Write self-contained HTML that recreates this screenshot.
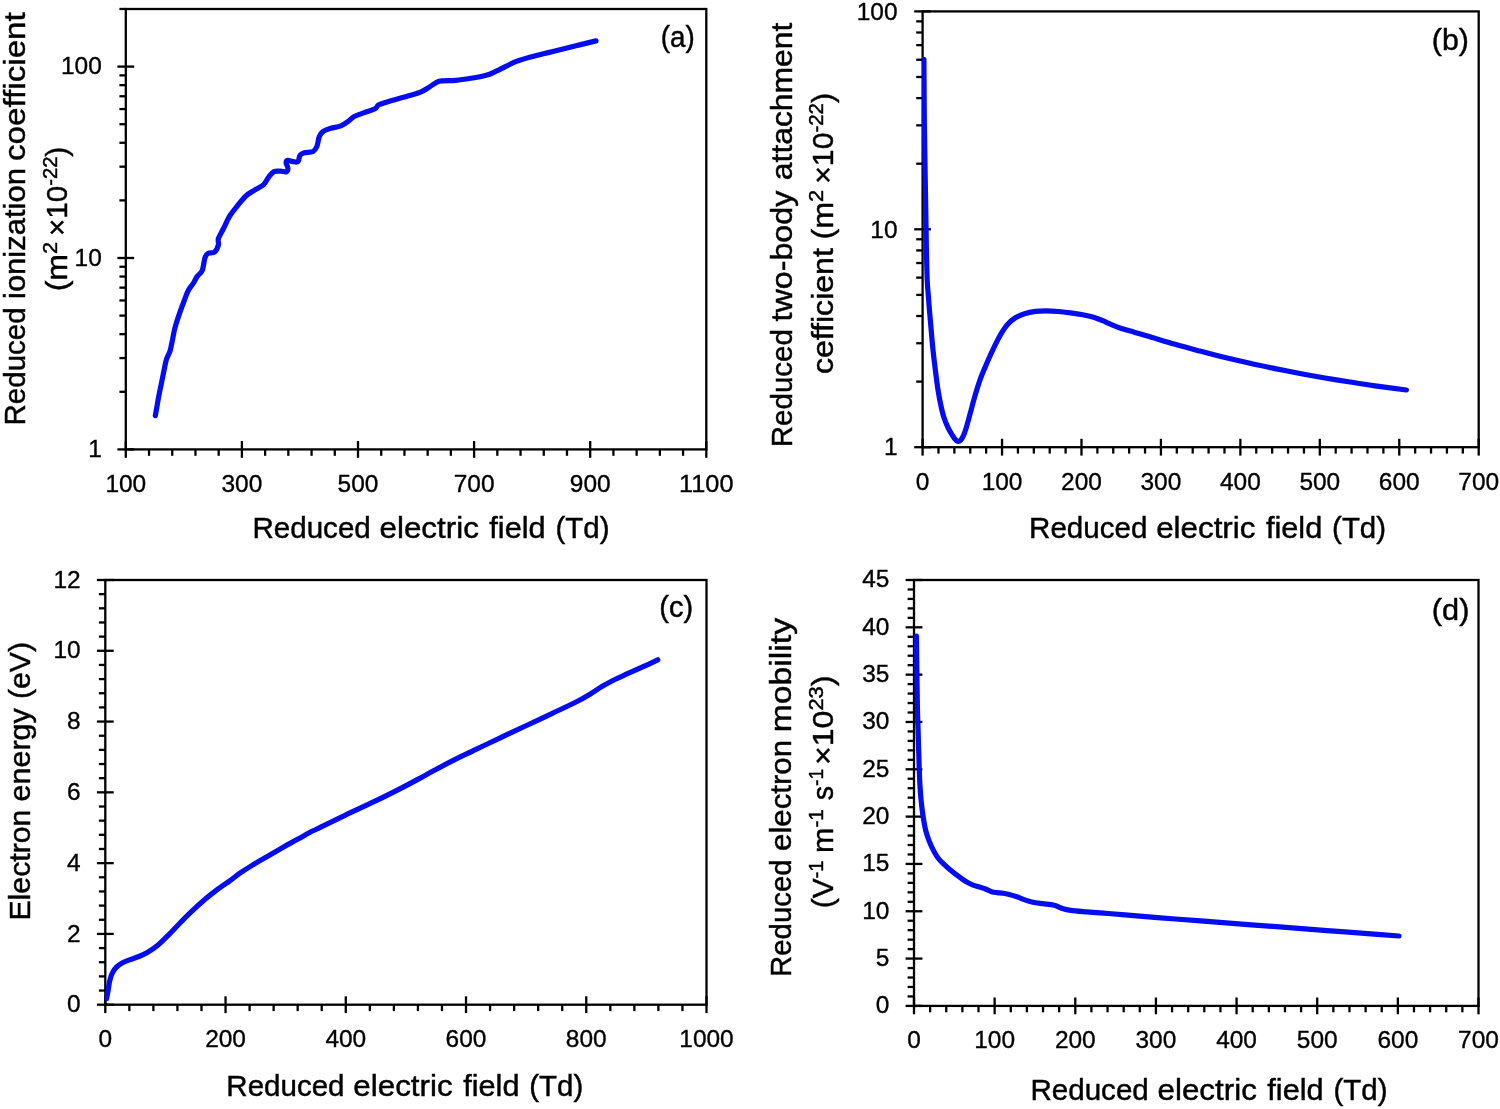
<!DOCTYPE html>
<html lang="en"><head><meta charset="utf-8"><title>Figure</title>
<style>
html,body{margin:0;padding:0;background:#fff;overflow:hidden;}
svg{display:block;}
text{font-family:"Liberation Sans", "DejaVu Sans", sans-serif;fill:#000;}
text.t{stroke:#000;stroke-width:0.45px;}
text.k{stroke:#000;stroke-width:0.35px;}
path.c{fill:none;stroke:#040cf2;stroke-width:5.2px;stroke-linecap:round;stroke-linejoin:round;}
</style></head><body>
<svg width="1500" height="1109" viewBox="0 0 1500 1109">
<rect width="1500" height="1109" fill="#fff"/>
<defs><clipPath id="ka"><rect x="125.20" y="9.00" width="581.10" height="440.40"/></clipPath><clipPath id="kb"><rect x="922.00" y="11.40" width="556.70" height="435.80"/></clipPath><clipPath id="kc"><rect x="104.70" y="580.00" width="601.80" height="424.70"/></clipPath><clipPath id="kd"><rect x="913.40" y="580.00" width="565.10" height="425.90"/></clipPath></defs>
<g stroke="#000" stroke-width="2.3" stroke-linecap="butt">
<rect x="125.80" y="9.00" width="580.50" height="440.40" fill="none"/>
<line x1="125.80" y1="441.00" x2="125.80" y2="457.80"/>
<line x1="241.90" y1="441.00" x2="241.90" y2="457.80"/>
<line x1="358.00" y1="441.00" x2="358.00" y2="457.80"/>
<line x1="474.10" y1="441.00" x2="474.10" y2="457.80"/>
<line x1="590.20" y1="441.00" x2="590.20" y2="457.80"/>
<line x1="706.30" y1="441.00" x2="706.30" y2="457.80"/>
<line x1="149.02" y1="449.40" x2="149.02" y2="455.80"/>
<line x1="172.24" y1="449.40" x2="172.24" y2="455.80"/>
<line x1="195.46" y1="449.40" x2="195.46" y2="455.80"/>
<line x1="218.68" y1="449.40" x2="218.68" y2="455.80"/>
<line x1="265.12" y1="449.40" x2="265.12" y2="455.80"/>
<line x1="288.34" y1="449.40" x2="288.34" y2="455.80"/>
<line x1="311.56" y1="449.40" x2="311.56" y2="455.80"/>
<line x1="334.78" y1="449.40" x2="334.78" y2="455.80"/>
<line x1="381.22" y1="449.40" x2="381.22" y2="455.80"/>
<line x1="404.44" y1="449.40" x2="404.44" y2="455.80"/>
<line x1="427.66" y1="449.40" x2="427.66" y2="455.80"/>
<line x1="450.88" y1="449.40" x2="450.88" y2="455.80"/>
<line x1="497.32" y1="449.40" x2="497.32" y2="455.80"/>
<line x1="520.54" y1="449.40" x2="520.54" y2="455.80"/>
<line x1="543.76" y1="449.40" x2="543.76" y2="455.80"/>
<line x1="566.98" y1="449.40" x2="566.98" y2="455.80"/>
<line x1="613.42" y1="449.40" x2="613.42" y2="455.80"/>
<line x1="636.64" y1="449.40" x2="636.64" y2="455.80"/>
<line x1="659.86" y1="449.40" x2="659.86" y2="455.80"/>
<line x1="683.08" y1="449.40" x2="683.08" y2="455.80"/>
<line x1="117.40" y1="449.40" x2="134.20" y2="449.40"/>
<line x1="117.40" y1="258.00" x2="134.20" y2="258.00"/>
<line x1="117.40" y1="66.60" x2="134.20" y2="66.60"/>
<line x1="119.40" y1="391.78" x2="125.80" y2="391.78"/>
<line x1="119.40" y1="358.08" x2="125.80" y2="358.08"/>
<line x1="119.40" y1="334.17" x2="125.80" y2="334.17"/>
<line x1="119.40" y1="315.62" x2="125.80" y2="315.62"/>
<line x1="119.40" y1="300.46" x2="125.80" y2="300.46"/>
<line x1="119.40" y1="287.65" x2="125.80" y2="287.65"/>
<line x1="119.40" y1="276.55" x2="125.80" y2="276.55"/>
<line x1="119.40" y1="266.76" x2="125.80" y2="266.76"/>
<line x1="119.40" y1="200.38" x2="125.80" y2="200.38"/>
<line x1="119.40" y1="166.68" x2="125.80" y2="166.68"/>
<line x1="119.40" y1="142.77" x2="125.80" y2="142.77"/>
<line x1="119.40" y1="124.22" x2="125.80" y2="124.22"/>
<line x1="119.40" y1="109.06" x2="125.80" y2="109.06"/>
<line x1="119.40" y1="96.25" x2="125.80" y2="96.25"/>
<line x1="119.40" y1="85.15" x2="125.80" y2="85.15"/>
<line x1="119.40" y1="75.36" x2="125.80" y2="75.36"/>
<line x1="119.40" y1="8.98" x2="125.80" y2="8.98"/>
<rect x="922.60" y="11.40" width="556.10" height="435.80" fill="none"/>
<line x1="922.60" y1="438.80" x2="922.60" y2="455.60"/>
<line x1="1002.04" y1="438.80" x2="1002.04" y2="455.60"/>
<line x1="1081.49" y1="438.80" x2="1081.49" y2="455.60"/>
<line x1="1160.93" y1="438.80" x2="1160.93" y2="455.60"/>
<line x1="1240.37" y1="438.80" x2="1240.37" y2="455.60"/>
<line x1="1319.81" y1="438.80" x2="1319.81" y2="455.60"/>
<line x1="1399.26" y1="438.80" x2="1399.26" y2="455.60"/>
<line x1="1478.70" y1="438.80" x2="1478.70" y2="455.60"/>
<line x1="938.49" y1="447.20" x2="938.49" y2="453.60"/>
<line x1="954.38" y1="447.20" x2="954.38" y2="453.60"/>
<line x1="970.27" y1="447.20" x2="970.27" y2="453.60"/>
<line x1="986.15" y1="447.20" x2="986.15" y2="453.60"/>
<line x1="1017.93" y1="447.20" x2="1017.93" y2="453.60"/>
<line x1="1033.82" y1="447.20" x2="1033.82" y2="453.60"/>
<line x1="1049.71" y1="447.20" x2="1049.71" y2="453.60"/>
<line x1="1065.60" y1="447.20" x2="1065.60" y2="453.60"/>
<line x1="1097.37" y1="447.20" x2="1097.37" y2="453.60"/>
<line x1="1113.26" y1="447.20" x2="1113.26" y2="453.60"/>
<line x1="1129.15" y1="447.20" x2="1129.15" y2="453.60"/>
<line x1="1145.04" y1="447.20" x2="1145.04" y2="453.60"/>
<line x1="1176.82" y1="447.20" x2="1176.82" y2="453.60"/>
<line x1="1192.71" y1="447.20" x2="1192.71" y2="453.60"/>
<line x1="1208.59" y1="447.20" x2="1208.59" y2="453.60"/>
<line x1="1224.48" y1="447.20" x2="1224.48" y2="453.60"/>
<line x1="1256.26" y1="447.20" x2="1256.26" y2="453.60"/>
<line x1="1272.15" y1="447.20" x2="1272.15" y2="453.60"/>
<line x1="1288.04" y1="447.20" x2="1288.04" y2="453.60"/>
<line x1="1303.93" y1="447.20" x2="1303.93" y2="453.60"/>
<line x1="1335.70" y1="447.20" x2="1335.70" y2="453.60"/>
<line x1="1351.59" y1="447.20" x2="1351.59" y2="453.60"/>
<line x1="1367.48" y1="447.20" x2="1367.48" y2="453.60"/>
<line x1="1383.37" y1="447.20" x2="1383.37" y2="453.60"/>
<line x1="1415.15" y1="447.20" x2="1415.15" y2="453.60"/>
<line x1="1431.03" y1="447.20" x2="1431.03" y2="453.60"/>
<line x1="1446.92" y1="447.20" x2="1446.92" y2="453.60"/>
<line x1="1462.81" y1="447.20" x2="1462.81" y2="453.60"/>
<line x1="914.20" y1="447.20" x2="931.00" y2="447.20"/>
<line x1="914.20" y1="229.30" x2="931.00" y2="229.30"/>
<line x1="914.20" y1="11.40" x2="931.00" y2="11.40"/>
<line x1="916.20" y1="381.61" x2="922.60" y2="381.61"/>
<line x1="916.20" y1="343.24" x2="922.60" y2="343.24"/>
<line x1="916.20" y1="316.01" x2="922.60" y2="316.01"/>
<line x1="916.20" y1="294.89" x2="922.60" y2="294.89"/>
<line x1="916.20" y1="277.64" x2="922.60" y2="277.64"/>
<line x1="916.20" y1="263.05" x2="922.60" y2="263.05"/>
<line x1="916.20" y1="250.42" x2="922.60" y2="250.42"/>
<line x1="916.20" y1="239.27" x2="922.60" y2="239.27"/>
<line x1="916.20" y1="163.71" x2="922.60" y2="163.71"/>
<line x1="916.20" y1="125.34" x2="922.60" y2="125.34"/>
<line x1="916.20" y1="98.11" x2="922.60" y2="98.11"/>
<line x1="916.20" y1="76.99" x2="922.60" y2="76.99"/>
<line x1="916.20" y1="59.74" x2="922.60" y2="59.74"/>
<line x1="916.20" y1="45.15" x2="922.60" y2="45.15"/>
<line x1="916.20" y1="32.52" x2="922.60" y2="32.52"/>
<line x1="916.20" y1="21.37" x2="922.60" y2="21.37"/>
<rect x="105.30" y="580.00" width="601.20" height="424.70" fill="none"/>
<line x1="105.30" y1="996.30" x2="105.30" y2="1013.10"/>
<line x1="225.54" y1="996.30" x2="225.54" y2="1013.10"/>
<line x1="345.78" y1="996.30" x2="345.78" y2="1013.10"/>
<line x1="466.02" y1="996.30" x2="466.02" y2="1013.10"/>
<line x1="586.26" y1="996.30" x2="586.26" y2="1013.10"/>
<line x1="706.50" y1="996.30" x2="706.50" y2="1013.10"/>
<line x1="129.35" y1="1004.70" x2="129.35" y2="1011.10"/>
<line x1="153.40" y1="1004.70" x2="153.40" y2="1011.10"/>
<line x1="177.44" y1="1004.70" x2="177.44" y2="1011.10"/>
<line x1="201.49" y1="1004.70" x2="201.49" y2="1011.10"/>
<line x1="249.59" y1="1004.70" x2="249.59" y2="1011.10"/>
<line x1="273.64" y1="1004.70" x2="273.64" y2="1011.10"/>
<line x1="297.68" y1="1004.70" x2="297.68" y2="1011.10"/>
<line x1="321.73" y1="1004.70" x2="321.73" y2="1011.10"/>
<line x1="369.83" y1="1004.70" x2="369.83" y2="1011.10"/>
<line x1="393.88" y1="1004.70" x2="393.88" y2="1011.10"/>
<line x1="417.92" y1="1004.70" x2="417.92" y2="1011.10"/>
<line x1="441.97" y1="1004.70" x2="441.97" y2="1011.10"/>
<line x1="490.07" y1="1004.70" x2="490.07" y2="1011.10"/>
<line x1="514.12" y1="1004.70" x2="514.12" y2="1011.10"/>
<line x1="538.16" y1="1004.70" x2="538.16" y2="1011.10"/>
<line x1="562.21" y1="1004.70" x2="562.21" y2="1011.10"/>
<line x1="610.31" y1="1004.70" x2="610.31" y2="1011.10"/>
<line x1="634.36" y1="1004.70" x2="634.36" y2="1011.10"/>
<line x1="658.40" y1="1004.70" x2="658.40" y2="1011.10"/>
<line x1="682.45" y1="1004.70" x2="682.45" y2="1011.10"/>
<line x1="96.90" y1="1004.70" x2="113.70" y2="1004.70"/>
<line x1="96.90" y1="933.92" x2="113.70" y2="933.92"/>
<line x1="96.90" y1="863.13" x2="113.70" y2="863.13"/>
<line x1="96.90" y1="792.35" x2="113.70" y2="792.35"/>
<line x1="96.90" y1="721.57" x2="113.70" y2="721.57"/>
<line x1="96.90" y1="650.78" x2="113.70" y2="650.78"/>
<line x1="96.90" y1="580.00" x2="113.70" y2="580.00"/>
<line x1="98.90" y1="990.54" x2="105.30" y2="990.54"/>
<line x1="98.90" y1="976.39" x2="105.30" y2="976.39"/>
<line x1="98.90" y1="962.23" x2="105.30" y2="962.23"/>
<line x1="98.90" y1="948.07" x2="105.30" y2="948.07"/>
<line x1="98.90" y1="919.76" x2="105.30" y2="919.76"/>
<line x1="98.90" y1="905.60" x2="105.30" y2="905.60"/>
<line x1="98.90" y1="891.45" x2="105.30" y2="891.45"/>
<line x1="98.90" y1="877.29" x2="105.30" y2="877.29"/>
<line x1="98.90" y1="848.98" x2="105.30" y2="848.98"/>
<line x1="98.90" y1="834.82" x2="105.30" y2="834.82"/>
<line x1="98.90" y1="820.66" x2="105.30" y2="820.66"/>
<line x1="98.90" y1="806.51" x2="105.30" y2="806.51"/>
<line x1="98.90" y1="778.19" x2="105.30" y2="778.19"/>
<line x1="98.90" y1="764.04" x2="105.30" y2="764.04"/>
<line x1="98.90" y1="749.88" x2="105.30" y2="749.88"/>
<line x1="98.90" y1="735.72" x2="105.30" y2="735.72"/>
<line x1="98.90" y1="707.41" x2="105.30" y2="707.41"/>
<line x1="98.90" y1="693.25" x2="105.30" y2="693.25"/>
<line x1="98.90" y1="679.10" x2="105.30" y2="679.10"/>
<line x1="98.90" y1="664.94" x2="105.30" y2="664.94"/>
<line x1="98.90" y1="636.63" x2="105.30" y2="636.63"/>
<line x1="98.90" y1="622.47" x2="105.30" y2="622.47"/>
<line x1="98.90" y1="608.31" x2="105.30" y2="608.31"/>
<line x1="98.90" y1="594.16" x2="105.30" y2="594.16"/>
<rect x="914.00" y="580.00" width="564.50" height="425.90" fill="none"/>
<line x1="914.00" y1="997.50" x2="914.00" y2="1014.30"/>
<line x1="994.64" y1="997.50" x2="994.64" y2="1014.30"/>
<line x1="1075.29" y1="997.50" x2="1075.29" y2="1014.30"/>
<line x1="1155.93" y1="997.50" x2="1155.93" y2="1014.30"/>
<line x1="1236.57" y1="997.50" x2="1236.57" y2="1014.30"/>
<line x1="1317.21" y1="997.50" x2="1317.21" y2="1014.30"/>
<line x1="1397.86" y1="997.50" x2="1397.86" y2="1014.30"/>
<line x1="1478.50" y1="997.50" x2="1478.50" y2="1014.30"/>
<line x1="930.13" y1="1005.90" x2="930.13" y2="1012.30"/>
<line x1="946.26" y1="1005.90" x2="946.26" y2="1012.30"/>
<line x1="962.39" y1="1005.90" x2="962.39" y2="1012.30"/>
<line x1="978.51" y1="1005.90" x2="978.51" y2="1012.30"/>
<line x1="1010.77" y1="1005.90" x2="1010.77" y2="1012.30"/>
<line x1="1026.90" y1="1005.90" x2="1026.90" y2="1012.30"/>
<line x1="1043.03" y1="1005.90" x2="1043.03" y2="1012.30"/>
<line x1="1059.16" y1="1005.90" x2="1059.16" y2="1012.30"/>
<line x1="1091.41" y1="1005.90" x2="1091.41" y2="1012.30"/>
<line x1="1107.54" y1="1005.90" x2="1107.54" y2="1012.30"/>
<line x1="1123.67" y1="1005.90" x2="1123.67" y2="1012.30"/>
<line x1="1139.80" y1="1005.90" x2="1139.80" y2="1012.30"/>
<line x1="1172.06" y1="1005.90" x2="1172.06" y2="1012.30"/>
<line x1="1188.19" y1="1005.90" x2="1188.19" y2="1012.30"/>
<line x1="1204.31" y1="1005.90" x2="1204.31" y2="1012.30"/>
<line x1="1220.44" y1="1005.90" x2="1220.44" y2="1012.30"/>
<line x1="1252.70" y1="1005.90" x2="1252.70" y2="1012.30"/>
<line x1="1268.83" y1="1005.90" x2="1268.83" y2="1012.30"/>
<line x1="1284.96" y1="1005.90" x2="1284.96" y2="1012.30"/>
<line x1="1301.09" y1="1005.90" x2="1301.09" y2="1012.30"/>
<line x1="1333.34" y1="1005.90" x2="1333.34" y2="1012.30"/>
<line x1="1349.47" y1="1005.90" x2="1349.47" y2="1012.30"/>
<line x1="1365.60" y1="1005.90" x2="1365.60" y2="1012.30"/>
<line x1="1381.73" y1="1005.90" x2="1381.73" y2="1012.30"/>
<line x1="1413.99" y1="1005.90" x2="1413.99" y2="1012.30"/>
<line x1="1430.11" y1="1005.90" x2="1430.11" y2="1012.30"/>
<line x1="1446.24" y1="1005.90" x2="1446.24" y2="1012.30"/>
<line x1="1462.37" y1="1005.90" x2="1462.37" y2="1012.30"/>
<line x1="905.60" y1="1005.90" x2="922.40" y2="1005.90"/>
<line x1="905.60" y1="958.58" x2="922.40" y2="958.58"/>
<line x1="905.60" y1="911.26" x2="922.40" y2="911.26"/>
<line x1="905.60" y1="863.93" x2="922.40" y2="863.93"/>
<line x1="905.60" y1="816.61" x2="922.40" y2="816.61"/>
<line x1="905.60" y1="769.29" x2="922.40" y2="769.29"/>
<line x1="905.60" y1="721.97" x2="922.40" y2="721.97"/>
<line x1="905.60" y1="674.64" x2="922.40" y2="674.64"/>
<line x1="905.60" y1="627.32" x2="922.40" y2="627.32"/>
<line x1="905.60" y1="580.00" x2="922.40" y2="580.00"/>
<line x1="907.60" y1="996.44" x2="914.00" y2="996.44"/>
<line x1="907.60" y1="986.97" x2="914.00" y2="986.97"/>
<line x1="907.60" y1="977.51" x2="914.00" y2="977.51"/>
<line x1="907.60" y1="968.04" x2="914.00" y2="968.04"/>
<line x1="907.60" y1="949.11" x2="914.00" y2="949.11"/>
<line x1="907.60" y1="939.65" x2="914.00" y2="939.65"/>
<line x1="907.60" y1="930.18" x2="914.00" y2="930.18"/>
<line x1="907.60" y1="920.72" x2="914.00" y2="920.72"/>
<line x1="907.60" y1="901.79" x2="914.00" y2="901.79"/>
<line x1="907.60" y1="892.33" x2="914.00" y2="892.33"/>
<line x1="907.60" y1="882.86" x2="914.00" y2="882.86"/>
<line x1="907.60" y1="873.40" x2="914.00" y2="873.40"/>
<line x1="907.60" y1="854.47" x2="914.00" y2="854.47"/>
<line x1="907.60" y1="845.00" x2="914.00" y2="845.00"/>
<line x1="907.60" y1="835.54" x2="914.00" y2="835.54"/>
<line x1="907.60" y1="826.08" x2="914.00" y2="826.08"/>
<line x1="907.60" y1="807.15" x2="914.00" y2="807.15"/>
<line x1="907.60" y1="797.68" x2="914.00" y2="797.68"/>
<line x1="907.60" y1="788.22" x2="914.00" y2="788.22"/>
<line x1="907.60" y1="778.75" x2="914.00" y2="778.75"/>
<line x1="907.60" y1="759.82" x2="914.00" y2="759.82"/>
<line x1="907.60" y1="750.36" x2="914.00" y2="750.36"/>
<line x1="907.60" y1="740.90" x2="914.00" y2="740.90"/>
<line x1="907.60" y1="731.43" x2="914.00" y2="731.43"/>
<line x1="907.60" y1="712.50" x2="914.00" y2="712.50"/>
<line x1="907.60" y1="703.04" x2="914.00" y2="703.04"/>
<line x1="907.60" y1="693.57" x2="914.00" y2="693.57"/>
<line x1="907.60" y1="684.11" x2="914.00" y2="684.11"/>
<line x1="907.60" y1="665.18" x2="914.00" y2="665.18"/>
<line x1="907.60" y1="655.72" x2="914.00" y2="655.72"/>
<line x1="907.60" y1="646.25" x2="914.00" y2="646.25"/>
<line x1="907.60" y1="636.79" x2="914.00" y2="636.79"/>
<line x1="907.60" y1="617.86" x2="914.00" y2="617.86"/>
<line x1="907.60" y1="608.39" x2="914.00" y2="608.39"/>
<line x1="907.60" y1="598.93" x2="914.00" y2="598.93"/>
<line x1="907.60" y1="589.46" x2="914.00" y2="589.46"/>
</g>
<text class="k" x="125.80" y="492.00" font-size="24.8" text-anchor="middle" textLength="40.80" lengthAdjust="spacingAndGlyphs">100</text>
<text class="k" x="241.90" y="492.00" font-size="24.8" text-anchor="middle" textLength="40.80" lengthAdjust="spacingAndGlyphs">300</text>
<text class="k" x="358.00" y="492.00" font-size="24.8" text-anchor="middle" textLength="40.80" lengthAdjust="spacingAndGlyphs">500</text>
<text class="k" x="474.10" y="492.00" font-size="24.8" text-anchor="middle" textLength="40.80" lengthAdjust="spacingAndGlyphs">700</text>
<text class="k" x="590.20" y="492.00" font-size="24.8" text-anchor="middle" textLength="40.80" lengthAdjust="spacingAndGlyphs">900</text>
<text class="k" x="706.30" y="492.00" font-size="24.8" text-anchor="middle" textLength="54.40" lengthAdjust="spacingAndGlyphs">1100</text>
<text class="k" x="101.80" y="457.20" font-size="24.8" text-anchor="end" textLength="13.60" lengthAdjust="spacingAndGlyphs">1</text>
<text class="k" x="101.80" y="265.80" font-size="24.8" text-anchor="end" textLength="27.20" lengthAdjust="spacingAndGlyphs">10</text>
<text class="k" x="101.80" y="74.40" font-size="24.8" text-anchor="end" textLength="40.80" lengthAdjust="spacingAndGlyphs">100</text>
<text class="k" x="922.60" y="489.60" font-size="24.8" text-anchor="middle" textLength="13.60" lengthAdjust="spacingAndGlyphs">0</text>
<text class="k" x="1002.04" y="489.60" font-size="24.8" text-anchor="middle" textLength="40.80" lengthAdjust="spacingAndGlyphs">100</text>
<text class="k" x="1081.49" y="489.60" font-size="24.8" text-anchor="middle" textLength="40.80" lengthAdjust="spacingAndGlyphs">200</text>
<text class="k" x="1160.93" y="489.60" font-size="24.8" text-anchor="middle" textLength="40.80" lengthAdjust="spacingAndGlyphs">300</text>
<text class="k" x="1240.37" y="489.60" font-size="24.8" text-anchor="middle" textLength="40.80" lengthAdjust="spacingAndGlyphs">400</text>
<text class="k" x="1319.81" y="489.60" font-size="24.8" text-anchor="middle" textLength="40.80" lengthAdjust="spacingAndGlyphs">500</text>
<text class="k" x="1399.26" y="489.60" font-size="24.8" text-anchor="middle" textLength="40.80" lengthAdjust="spacingAndGlyphs">600</text>
<text class="k" x="1478.70" y="489.60" font-size="24.8" text-anchor="middle" textLength="40.80" lengthAdjust="spacingAndGlyphs">700</text>
<text class="k" x="897.50" y="455.40" font-size="24.8" text-anchor="end" textLength="13.60" lengthAdjust="spacingAndGlyphs">1</text>
<text class="k" x="897.50" y="237.50" font-size="24.8" text-anchor="end" textLength="27.20" lengthAdjust="spacingAndGlyphs">10</text>
<text class="k" x="897.50" y="19.60" font-size="24.8" text-anchor="end" textLength="40.80" lengthAdjust="spacingAndGlyphs">100</text>
<text class="k" x="105.30" y="1047.00" font-size="24.8" text-anchor="middle" textLength="13.60" lengthAdjust="spacingAndGlyphs">0</text>
<text class="k" x="225.54" y="1047.00" font-size="24.8" text-anchor="middle" textLength="40.80" lengthAdjust="spacingAndGlyphs">200</text>
<text class="k" x="345.78" y="1047.00" font-size="24.8" text-anchor="middle" textLength="40.80" lengthAdjust="spacingAndGlyphs">400</text>
<text class="k" x="466.02" y="1047.00" font-size="24.8" text-anchor="middle" textLength="40.80" lengthAdjust="spacingAndGlyphs">600</text>
<text class="k" x="586.26" y="1047.00" font-size="24.8" text-anchor="middle" textLength="40.80" lengthAdjust="spacingAndGlyphs">800</text>
<text class="k" x="706.50" y="1047.00" font-size="24.8" text-anchor="middle" textLength="54.40" lengthAdjust="spacingAndGlyphs">1000</text>
<text class="k" x="80.70" y="1012.40" font-size="24.8" text-anchor="end" textLength="13.60" lengthAdjust="spacingAndGlyphs">0</text>
<text class="k" x="80.70" y="941.62" font-size="24.8" text-anchor="end" textLength="13.60" lengthAdjust="spacingAndGlyphs">2</text>
<text class="k" x="80.70" y="870.83" font-size="24.8" text-anchor="end" textLength="13.60" lengthAdjust="spacingAndGlyphs">4</text>
<text class="k" x="80.70" y="800.05" font-size="24.8" text-anchor="end" textLength="13.60" lengthAdjust="spacingAndGlyphs">6</text>
<text class="k" x="80.70" y="729.27" font-size="24.8" text-anchor="end" textLength="13.60" lengthAdjust="spacingAndGlyphs">8</text>
<text class="k" x="80.70" y="658.48" font-size="24.8" text-anchor="end" textLength="27.20" lengthAdjust="spacingAndGlyphs">10</text>
<text class="k" x="80.70" y="587.70" font-size="24.8" text-anchor="end" textLength="27.20" lengthAdjust="spacingAndGlyphs">12</text>
<text class="k" x="914.00" y="1048.40" font-size="24.8" text-anchor="middle" textLength="13.60" lengthAdjust="spacingAndGlyphs">0</text>
<text class="k" x="994.64" y="1048.40" font-size="24.8" text-anchor="middle" textLength="40.80" lengthAdjust="spacingAndGlyphs">100</text>
<text class="k" x="1075.29" y="1048.40" font-size="24.8" text-anchor="middle" textLength="40.80" lengthAdjust="spacingAndGlyphs">200</text>
<text class="k" x="1155.93" y="1048.40" font-size="24.8" text-anchor="middle" textLength="40.80" lengthAdjust="spacingAndGlyphs">300</text>
<text class="k" x="1236.57" y="1048.40" font-size="24.8" text-anchor="middle" textLength="40.80" lengthAdjust="spacingAndGlyphs">400</text>
<text class="k" x="1317.21" y="1048.40" font-size="24.8" text-anchor="middle" textLength="40.80" lengthAdjust="spacingAndGlyphs">500</text>
<text class="k" x="1397.86" y="1048.40" font-size="24.8" text-anchor="middle" textLength="40.80" lengthAdjust="spacingAndGlyphs">600</text>
<text class="k" x="1478.50" y="1048.40" font-size="24.8" text-anchor="middle" textLength="40.80" lengthAdjust="spacingAndGlyphs">700</text>
<text class="k" x="889.40" y="1013.20" font-size="24.8" text-anchor="end" textLength="13.60" lengthAdjust="spacingAndGlyphs">0</text>
<text class="k" x="889.40" y="965.88" font-size="24.8" text-anchor="end" textLength="13.60" lengthAdjust="spacingAndGlyphs">5</text>
<text class="k" x="889.40" y="918.56" font-size="24.8" text-anchor="end" textLength="27.20" lengthAdjust="spacingAndGlyphs">10</text>
<text class="k" x="889.40" y="871.23" font-size="24.8" text-anchor="end" textLength="27.20" lengthAdjust="spacingAndGlyphs">15</text>
<text class="k" x="889.40" y="823.91" font-size="24.8" text-anchor="end" textLength="27.20" lengthAdjust="spacingAndGlyphs">20</text>
<text class="k" x="889.40" y="776.59" font-size="24.8" text-anchor="end" textLength="27.20" lengthAdjust="spacingAndGlyphs">25</text>
<text class="k" x="889.40" y="729.27" font-size="24.8" text-anchor="end" textLength="27.20" lengthAdjust="spacingAndGlyphs">30</text>
<text class="k" x="889.40" y="681.94" font-size="24.8" text-anchor="end" textLength="27.20" lengthAdjust="spacingAndGlyphs">35</text>
<text class="k" x="889.40" y="634.62" font-size="24.8" text-anchor="end" textLength="27.20" lengthAdjust="spacingAndGlyphs">40</text>
<text class="k" x="889.40" y="587.30" font-size="24.8" text-anchor="end" textLength="27.20" lengthAdjust="spacingAndGlyphs">45</text>
<path class="c" d="M155.3,415.7 C155.8,413.1 157.2,404.9 158.1,399.9 C159.0,394.8 160.0,390.2 161.0,385.4 C162.0,380.6 163.0,375.3 163.9,371.0 C164.8,366.7 165.4,362.9 166.4,359.5 C167.4,356.1 169.1,354.2 170.1,350.8 C171.1,347.4 171.8,343.2 172.6,339.3 C173.4,335.4 173.9,331.8 175.0,327.7 C176.1,323.6 177.6,319.1 179.1,314.7 C180.6,310.2 182.5,305.1 184.1,301.0 C185.7,296.9 186.8,293.2 188.4,290.2 C190.0,287.2 192.1,285.3 193.5,283.0 C194.9,280.7 195.7,278.6 197.1,276.5 C198.5,274.4 200.9,273.6 202.2,270.5 C203.5,267.4 204.0,260.5 205.0,257.6 C206.0,254.7 206.7,254.2 208.3,253.3 C209.9,252.4 212.9,253.4 214.6,252.0 C216.3,250.6 217.8,247.2 218.4,245.0 C219.0,242.8 217.6,241.3 218.4,238.6 C219.2,235.8 221.6,232.3 223.5,228.5 C225.4,224.7 227.5,219.7 229.8,215.9 C232.1,212.1 234.7,209.2 237.4,205.8 C240.1,202.4 243.3,198.3 246.2,195.7 C249.1,193.0 252.1,191.8 255.0,189.9 C257.9,188.0 261.6,186.5 263.9,184.3 C266.2,182.1 267.2,178.9 268.9,176.8 C270.6,174.7 272.1,172.6 274.0,171.7 C275.9,170.8 278.2,171.2 280.3,171.2 C282.4,171.2 285.3,172.2 286.6,171.7 C287.9,171.1 288.0,169.4 287.9,167.9 C287.8,166.4 286.1,164.2 286.1,162.9 C286.1,161.7 286.8,160.6 287.9,160.4 C289.0,160.2 291.2,161.4 292.9,161.6 C294.6,161.8 296.8,162.6 298.0,161.6 C299.2,160.6 298.9,156.8 300.0,155.3 C301.1,153.8 302.1,153.4 304.3,152.8 C306.5,152.2 311.0,152.6 313.1,151.5 C315.2,150.4 315.8,149.0 316.9,146.5 C317.9,144.0 318.3,138.9 319.4,136.4 C320.4,133.9 321.3,132.7 323.2,131.3 C325.1,130.0 327.9,129.2 330.8,128.3 C333.8,127.4 337.9,127.0 340.9,125.8 C343.8,124.6 346.4,122.7 348.5,121.2 C350.6,119.7 351.0,118.3 353.5,116.9 C356.0,115.5 360.0,114.2 363.6,112.9 C367.2,111.6 372.5,110.2 375.0,108.8 C377.5,107.4 376.3,106.1 378.8,104.8 C381.3,103.5 385.4,102.5 390.2,101.0 C395.0,99.5 402.8,97.5 407.8,96.0 C412.9,94.5 416.9,93.7 420.5,92.2 C424.1,90.7 426.6,88.8 429.3,87.1 C432.0,85.4 434.6,83.1 436.9,82.1 C439.2,81.0 440.0,81.1 443.2,80.8 C446.4,80.5 451.2,80.7 455.8,80.3 C460.4,79.9 465.9,79.1 471.0,78.3 C476.1,77.5 481.9,76.5 486.1,75.3 C490.3,74.1 492.8,72.7 496.2,71.2 C499.6,69.7 502.9,67.8 506.3,66.2 C509.7,64.6 512.2,63.0 516.4,61.4 C520.6,59.8 525.7,58.4 531.6,56.8 C537.5,55.2 544.2,53.7 551.8,51.8 C559.4,49.9 569.6,47.3 577.0,45.5 C584.4,43.7 592.8,41.7 596.0,40.9" clip-path="url(#ka)"/>
<path class="c" d="M923.9,59.3 C924.0,70.5 924.1,102.8 924.4,126.3 C924.7,149.8 925.3,179.4 925.6,200.0 C925.9,220.6 926.1,236.7 926.4,250.0 C926.7,263.3 926.9,272.4 927.2,280.0 C927.5,287.6 927.9,290.2 928.3,295.3 C928.7,300.4 929.0,305.1 929.5,310.7 C930.0,316.3 930.5,322.7 931.1,329.1 C931.7,335.5 932.2,342.4 932.9,349.0 C933.6,355.6 934.4,362.5 935.2,368.9 C936.0,375.3 936.8,381.7 937.6,387.3 C938.5,392.9 939.3,397.8 940.3,402.6 C941.3,407.5 942.3,412.2 943.6,416.4 C944.9,420.6 946.5,424.3 948.0,427.6 C949.5,430.9 951.6,434.0 952.9,436.1 C954.2,438.2 954.9,439.1 955.8,440.0 C956.6,440.9 957.2,441.3 958.0,441.4 C958.8,441.5 959.5,441.4 960.4,440.5 C961.3,439.6 962.2,438.4 963.2,436.2 C964.2,434.0 965.2,431.0 966.4,427.2 C967.6,423.4 968.8,418.5 970.2,413.4 C971.6,408.3 973.1,402.1 974.8,396.5 C976.4,390.9 978.1,385.2 980.1,379.6 C982.1,374.0 984.6,368.4 987.0,362.8 C989.4,357.2 992.3,350.9 994.7,345.9 C997.1,340.9 999.4,336.5 1001.6,332.9 C1003.8,329.3 1005.4,326.7 1007.7,324.2 C1010.0,321.7 1012.6,319.6 1015.4,317.8 C1018.2,316.1 1021.3,314.8 1024.6,313.7 C1027.9,312.6 1031.7,311.8 1035.3,311.3 C1038.9,310.8 1042.2,310.8 1046.0,310.8 C1049.8,310.8 1054.2,311.1 1058.3,311.5 C1062.4,311.9 1066.5,312.4 1070.6,312.9 C1074.7,313.4 1079.0,314.0 1082.8,314.7 C1086.6,315.4 1090.3,316.2 1093.6,317.2 C1096.9,318.2 1099.9,319.5 1102.8,320.7 C1105.7,321.9 1108.1,323.2 1111.0,324.4 C1113.9,325.6 1116.0,326.7 1120.0,328.0 C1124.0,329.3 1130.0,330.9 1135.0,332.4 C1140.0,333.9 1143.3,334.8 1150.0,336.8 C1156.7,338.8 1166.7,341.9 1175.0,344.3 C1183.3,346.7 1191.7,348.9 1200.0,351.1 C1208.3,353.3 1216.7,355.5 1225.0,357.5 C1233.3,359.5 1241.7,361.4 1250.0,363.3 C1258.3,365.2 1266.7,366.9 1275.0,368.6 C1283.3,370.3 1291.7,371.9 1300.0,373.5 C1308.3,375.1 1316.7,376.6 1325.0,378.0 C1333.3,379.4 1341.7,380.7 1350.0,382.0 C1358.3,383.3 1365.6,384.5 1375.0,385.8 C1384.4,387.1 1401.2,389.3 1406.4,390.0" clip-path="url(#kb)"/>
<path class="c" d="M106.6,998.7 C106.8,997.4 107.6,993.6 108.1,990.6 C108.6,987.6 109.1,983.5 109.8,980.5 C110.5,977.5 111.3,975.1 112.4,972.9 C113.5,970.7 114.5,969.1 116.2,967.4 C117.9,965.7 120.2,964.1 122.5,962.8 C124.8,961.5 127.4,960.6 130.1,959.6 C132.8,958.6 136.0,957.7 138.9,956.5 C141.8,955.3 144.5,954.1 147.7,952.2 C150.8,950.3 154.4,948.0 157.8,945.2 C161.2,942.4 164.3,939.2 167.9,935.6 C171.5,932.0 175.3,927.8 179.3,923.7 C183.3,919.6 187.7,915.1 191.9,911.1 C196.1,907.1 200.3,903.3 204.5,899.7 C208.7,896.1 213.0,892.8 217.2,889.6 C221.4,886.5 226.0,883.5 229.8,880.8 C233.6,878.1 236.1,875.8 239.9,873.2 C243.7,870.6 247.9,867.9 252.5,865.1 C257.1,862.3 262.6,859.2 267.7,856.3 C272.8,853.3 277.8,850.3 282.8,847.4 C287.9,844.5 293.4,841.7 298.0,839.1 C302.6,836.5 307.5,833.7 310.6,832.0 C313.8,830.3 311.2,831.8 316.9,829.0 C322.6,826.2 335.3,819.9 345.0,815.3 C354.7,810.7 365.8,805.7 375.0,801.2 C384.2,796.8 391.9,792.9 400.3,788.6 C408.7,784.3 417.1,779.7 425.5,775.2 C433.9,770.7 442.4,765.9 450.8,761.6 C459.2,757.3 467.6,753.5 476.0,749.4 C484.4,745.3 492.9,741.3 501.3,737.3 C509.7,733.3 518.1,729.5 526.5,725.5 C534.9,721.5 543.4,717.6 551.8,713.6 C560.2,709.6 570.7,704.7 577.0,701.5 C583.3,698.3 585.4,696.9 589.6,694.4 C593.8,691.9 598.1,688.8 602.3,686.3 C606.5,683.8 610.7,681.6 614.9,679.5 C619.1,677.4 622.9,675.8 627.5,673.7 C632.1,671.6 637.7,669.2 642.7,666.9 C647.8,664.6 655.3,661.0 657.8,659.8" clip-path="url(#kc)"/>
<path class="c" d="M916.4,636.2 C916.5,641.5 916.6,656.3 916.8,668.0 C917.0,679.7 917.2,696.2 917.4,706.5 C917.6,716.8 917.9,723.6 918.1,730.0 C918.3,736.4 918.4,740.5 918.5,745.0 C918.6,749.5 918.8,752.7 918.9,757.0 C919.0,761.3 919.1,765.9 919.3,770.7 C919.5,775.5 919.7,780.9 920.0,786.0 C920.3,791.1 920.7,796.2 921.2,801.3 C921.7,806.4 922.4,811.8 923.1,816.6 C923.9,821.5 924.7,826.3 925.7,830.4 C926.7,834.5 927.9,837.8 929.2,841.1 C930.5,844.4 931.9,847.5 933.4,850.3 C934.9,853.1 936.2,855.6 938.0,858.0 C939.8,860.4 941.9,862.3 944.1,864.4 C946.3,866.5 948.6,868.6 951.0,870.6 C953.4,872.6 956.1,874.5 958.6,876.4 C961.1,878.3 964.0,880.4 966.3,881.8 C968.6,883.2 970.2,883.9 972.4,884.8 C974.6,885.7 977.1,886.4 979.3,887.1 C981.5,887.8 983.5,888.2 985.5,889.0 C987.5,889.8 989.7,891.1 991.6,891.7 C993.5,892.3 995.1,892.4 997.0,892.6 C998.9,892.9 1001.1,892.9 1003.1,893.2 C1005.1,893.5 1006.9,893.9 1009.2,894.5 C1011.5,895.1 1014.3,895.9 1016.9,896.8 C1019.5,897.7 1022.4,899.0 1025.0,899.9 C1027.7,900.8 1029.8,901.6 1032.8,902.2 C1035.8,902.8 1039.3,903.2 1042.9,903.7 C1046.5,904.2 1050.9,904.4 1054.3,905.3 C1057.7,906.1 1060.4,908.0 1063.1,908.8 C1065.8,909.6 1066.9,909.8 1070.7,910.3 C1074.5,910.8 1080.4,911.3 1085.9,911.8 C1091.4,912.3 1097.0,912.6 1103.5,913.1 C1110.0,913.6 1113.0,913.9 1125.0,914.9 C1137.0,915.9 1158.7,917.7 1175.5,919.0 C1192.3,920.3 1209.2,921.6 1226.0,922.9 C1242.8,924.2 1259.7,925.4 1276.5,926.7 C1293.3,928.0 1310.2,929.3 1327.0,930.6 C1343.8,931.9 1365.5,933.4 1377.5,934.3 C1389.5,935.2 1395.4,935.7 1399.0,936.0" clip-path="url(#kd)"/>
<text class="t" x="252.50" y="538.00" font-size="30.2" text-anchor="start" textLength="118.26" lengthAdjust="spacingAndGlyphs">Reduced</text>
<text class="t" x="379.56" y="538.00" font-size="30.2" text-anchor="start" textLength="99.29" lengthAdjust="spacingAndGlyphs">electric</text>
<text class="t" x="489.35" y="538.00" font-size="30.2" text-anchor="start" textLength="56.32" lengthAdjust="spacingAndGlyphs">field</text>
<text class="t" x="555.49" y="538.00" font-size="30.2" text-anchor="start" textLength="53.96" lengthAdjust="spacingAndGlyphs">(Td)</text>
<text class="t" x="1029.10" y="537.80" font-size="30.2" text-anchor="start" textLength="118.26" lengthAdjust="spacingAndGlyphs">Reduced</text>
<text class="t" x="1156.16" y="537.80" font-size="30.2" text-anchor="start" textLength="99.29" lengthAdjust="spacingAndGlyphs">electric</text>
<text class="t" x="1265.95" y="537.80" font-size="30.2" text-anchor="start" textLength="56.32" lengthAdjust="spacingAndGlyphs">field</text>
<text class="t" x="1332.09" y="537.80" font-size="30.2" text-anchor="start" textLength="53.96" lengthAdjust="spacingAndGlyphs">(Td)</text>
<text class="t" x="226.30" y="1095.70" font-size="30.2" text-anchor="start" textLength="118.26" lengthAdjust="spacingAndGlyphs">Reduced</text>
<text class="t" x="353.36" y="1095.70" font-size="30.2" text-anchor="start" textLength="99.29" lengthAdjust="spacingAndGlyphs">electric</text>
<text class="t" x="463.15" y="1095.70" font-size="30.2" text-anchor="start" textLength="56.32" lengthAdjust="spacingAndGlyphs">field</text>
<text class="t" x="529.29" y="1095.70" font-size="30.2" text-anchor="start" textLength="53.96" lengthAdjust="spacingAndGlyphs">(Td)</text>
<text class="t" x="1030.50" y="1099.70" font-size="30.2" text-anchor="start" textLength="118.26" lengthAdjust="spacingAndGlyphs">Reduced</text>
<text class="t" x="1157.56" y="1099.70" font-size="30.2" text-anchor="start" textLength="99.29" lengthAdjust="spacingAndGlyphs">electric</text>
<text class="t" x="1267.35" y="1099.70" font-size="30.2" text-anchor="start" textLength="56.32" lengthAdjust="spacingAndGlyphs">field</text>
<text class="t" x="1333.49" y="1099.70" font-size="30.2" text-anchor="start" textLength="53.96" lengthAdjust="spacingAndGlyphs">(Td)</text>
<text class="t" x="660.79" y="47.10" font-size="30.2" text-anchor="start" textLength="34.04" lengthAdjust="spacingAndGlyphs">(a)</text>
<text class="t" x="1431.84" y="49.80" font-size="30.2" text-anchor="start" textLength="37.02" lengthAdjust="spacingAndGlyphs">(b)</text>
<text class="t" x="659.22" y="617.20" font-size="30.2" text-anchor="start" textLength="33.82" lengthAdjust="spacingAndGlyphs">(c)</text>
<text class="t" x="1431.82" y="619.80" font-size="30.2" text-anchor="start" textLength="37.57" lengthAdjust="spacingAndGlyphs">(d)</text>
<text class="t" x="25.30" y="425.50" font-size="30.2" text-anchor="start" textLength="118.16" lengthAdjust="spacingAndGlyphs" transform="rotate(-90 25.30 425.50)">Reduced</text>
<text class="t" x="25.30" y="299.00" font-size="30.2" text-anchor="start" textLength="130.94" lengthAdjust="spacingAndGlyphs" transform="rotate(-90 25.30 299.00)">ionization</text>
<text class="t" x="25.30" y="161.00" font-size="30.2" text-anchor="start" textLength="148.76" lengthAdjust="spacingAndGlyphs" transform="rotate(-90 25.30 161.00)">coefficient</text>
<text class="t" x="66.70" y="291.36" font-size="30.2" text-anchor="start" textLength="49.58" lengthAdjust="spacingAndGlyphs" transform="rotate(-90 66.70 291.36)">(m<tspan font-size="20.5" dy="-9.8">2</tspan></text>
<text class="t" x="66.70" y="236.02" font-size="30.2" text-anchor="start" textLength="89.26" lengthAdjust="spacingAndGlyphs" transform="rotate(-90 66.70 236.02)">×10<tspan font-size="20.5" dy="-9.8">-22</tspan><tspan dy="9.8">)</tspan></text>
<text class="t" x="791.80" y="447.20" font-size="30.2" text-anchor="start" textLength="118.16" lengthAdjust="spacingAndGlyphs" transform="rotate(-90 791.80 447.20)">Reduced</text>
<text class="t" x="791.80" y="321.57" font-size="30.2" text-anchor="start" textLength="131.00" lengthAdjust="spacingAndGlyphs" transform="rotate(-90 791.80 321.57)">two-body</text>
<text class="t" x="791.80" y="180.15" font-size="30.2" text-anchor="start" textLength="157.47" lengthAdjust="spacingAndGlyphs" transform="rotate(-90 791.80 180.15)">attachment</text>
<text class="t" x="833.30" y="374.06" font-size="30.2" text-anchor="start" textLength="125.86" lengthAdjust="spacingAndGlyphs" transform="rotate(-90 833.30 374.06)">cefficient</text>
<text class="t" x="833.30" y="239.47" font-size="30.2" text-anchor="start" textLength="49.79" lengthAdjust="spacingAndGlyphs" transform="rotate(-90 833.30 239.47)">(m<tspan font-size="20.5" dy="-9.8">2</tspan></text>
<text class="t" x="833.30" y="183.75" font-size="30.2" text-anchor="start" textLength="90.82" lengthAdjust="spacingAndGlyphs" transform="rotate(-90 833.30 183.75)">×10<tspan font-size="20.5" dy="-9.8">-22</tspan><tspan dy="9.8">)</tspan></text>
<text class="t" x="30.40" y="920.56" font-size="30.2" text-anchor="start" textLength="111.01" lengthAdjust="spacingAndGlyphs" transform="rotate(-90 30.40 920.56)">Electron</text>
<text class="t" x="30.40" y="801.51" font-size="30.2" text-anchor="start" textLength="93.32" lengthAdjust="spacingAndGlyphs" transform="rotate(-90 30.40 801.51)">energy</text>
<text class="t" x="30.40" y="699.05" font-size="30.2" text-anchor="start" textLength="57.08" lengthAdjust="spacingAndGlyphs" transform="rotate(-90 30.40 699.05)">(eV)</text>
<text class="t" x="791.50" y="976.89" font-size="30.2" text-anchor="start" textLength="117.44" lengthAdjust="spacingAndGlyphs" transform="rotate(-90 791.50 976.89)">Reduced</text>
<text class="t" x="791.50" y="850.93" font-size="30.2" text-anchor="start" textLength="110.94" lengthAdjust="spacingAndGlyphs" transform="rotate(-90 791.50 850.93)">electron</text>
<text class="t" x="791.50" y="732.36" font-size="30.2" text-anchor="start" textLength="114.36" lengthAdjust="spacingAndGlyphs" transform="rotate(-90 791.50 732.36)">mobility</text>
<text class="t" x="833.10" y="908.22" font-size="30.2" text-anchor="start" textLength="47.69" lengthAdjust="spacingAndGlyphs" transform="rotate(-90 833.10 908.22)">(V<tspan font-size="20.5" dy="-9.8">-1</tspan></text>
<text class="t" x="833.10" y="852.97" font-size="30.2" text-anchor="start" textLength="43.81" lengthAdjust="spacingAndGlyphs" transform="rotate(-90 833.10 852.97)">m<tspan font-size="20.5" dy="-9.8">-1</tspan></text>
<text class="t" x="833.10" y="800.27" font-size="30.2" text-anchor="start" textLength="31.56" lengthAdjust="spacingAndGlyphs" transform="rotate(-90 833.10 800.27)">s<tspan font-size="20.5" dy="-9.8">-1</tspan></text>
<text class="t" x="833.10" y="765.06" font-size="30.2" text-anchor="start" textLength="89.56" lengthAdjust="spacingAndGlyphs" transform="rotate(-90 833.10 765.06)">×10<tspan font-size="20.5" dy="-9.8">23</tspan><tspan dy="9.8">)</tspan></text>
</svg>
</body></html>
